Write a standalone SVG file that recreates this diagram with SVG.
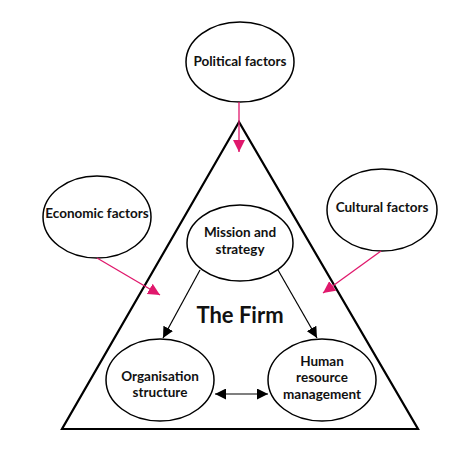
<svg xmlns="http://www.w3.org/2000/svg" width="474" height="463" viewBox="0 0 474 463">
<defs>
<marker id="pk" viewBox="0 0 10 10" refX="10" refY="5" markerWidth="12" markerHeight="12" markerUnits="userSpaceOnUse" orient="auto"><path d="M0,0 L10,5 L0,10 Z" fill="#e0186c"/></marker>
<marker id="bk" viewBox="0 0 10 10" refX="10" refY="5" markerWidth="11" markerHeight="11" markerUnits="userSpaceOnUse" orient="auto"><path d="M0,0 L10,5 L0,10 Z" fill="#000"/></marker>
<marker id="bks" viewBox="0 0 10 10" refX="0" refY="5" markerWidth="11" markerHeight="11" markerUnits="userSpaceOnUse" orient="auto"><path d="M10,0 L0,5 L10,10 Z" fill="#000"/></marker>
</defs>
<style>
.e{fill:#fff;stroke:#000;stroke-width:1.5}
.t{font-family:Lato,"Liberation Sans",sans-serif;font-weight:700;font-size:13.5px;text-anchor:middle;fill:#111}
.p{stroke:#e0186c;stroke-width:1.3;fill:none}
.b{stroke:#000;stroke-width:1.2;fill:none}
</style>
<rect width="474" height="463" fill="#fff"/>
<g id="firm">
<polygon points="239,122 62,429 418,429" fill="#fff" stroke="#000" stroke-width="2.2" stroke-linejoin="miter"/>
<text x="240" y="323" class="t" style="font-size:22px">The Firm</text>
</g>
<g id="political"><ellipse cx="240" cy="62" rx="54" ry="40" class="e"/><text x="240" y="66" class="t">Political factors</text></g>
<g id="economic"><ellipse cx="97" cy="217" rx="54" ry="41" class="e"/><text x="97" y="218" class="t">Economic factors</text></g>
<g id="cultural"><ellipse cx="382" cy="210" rx="55" ry="41" class="e"/><text x="382" y="212" class="t">Cultural factors</text></g>
<g id="mission"><ellipse cx="240" cy="243" rx="53" ry="38" class="e"/><text x="240" y="237" class="t">Mission and</text><text x="240" y="254" class="t">strategy</text></g>
<g id="organisation"><ellipse cx="160" cy="380" rx="54" ry="41" class="e"/><text x="160" y="381" class="t">Organisation</text><text x="160" y="397" class="t">structure</text></g>
<g id="hrm"><ellipse cx="322" cy="380" rx="54" ry="41" class="e"/><text x="322" y="366" class="t">Human</text><text x="322" y="382" class="t">resource</text><text x="322" y="399" class="t">management</text></g>
<g id="connectors">
<line x1="239" y1="102" x2="239" y2="152" class="p" marker-end="url(#pk)"/>
<line x1="97" y1="258" x2="160" y2="295" class="p" marker-end="url(#pk)"/>
<line x1="381" y1="251" x2="323" y2="293" class="p" marker-end="url(#pk)"/>
<line x1="200" y1="270" x2="163" y2="338" class="b" marker-end="url(#bk)"/>
<line x1="278" y1="270" x2="317" y2="338" class="b" marker-end="url(#bk)"/>
<line x1="215" y1="394" x2="268" y2="394" class="b" marker-start="url(#bks)" marker-end="url(#bk)"/>
</g>
</svg>
